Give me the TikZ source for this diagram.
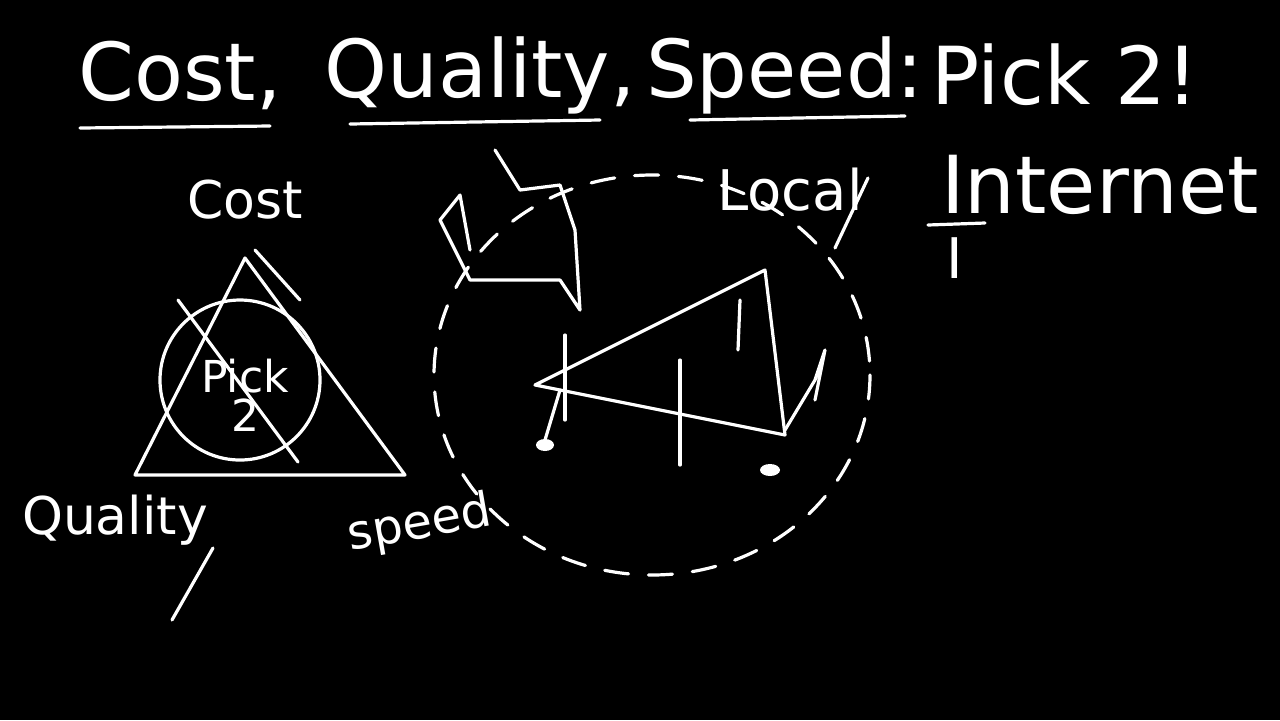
\documentclass[tikz,border=0pt]{standalone}
\usepackage{fontspec}
\setmainfont{DejaVu Sans}
\begin{document}
\begin{tikzpicture}[x=0.5pt,y=-0.5pt,every node/.style={text=white,inner sep=0pt},
 chalk/.style={draw=white,line width=1.6pt,line cap=round,line join=round},
 big/.style={font=\fontsize{40}{46}\selectfont},
 dashline/.style={chalk,dash pattern=on 12pt off 10pt}]
\fill[black] (0,0) rectangle (1280,720);
\useasboundingbox (0,0) rectangle (1280,720);
% title
\node[big] (t1) at (180,75) {Cost,};
\node[big] (t2) at (480,75) {Quality,};
\node[big] (t3) at (785,75) {Speed:};
\node[big] (t4) at (1065,75) {Pick 2!};
\draw[chalk] (80,128) -- (270,126);
\draw[chalk] (350,124) -- (600,120);
\draw[chalk] (690,120) -- (905,116);
% left triangle
\node (cost) at (245,200) {\fontsize{26}{30}\selectfont Cost};
\coordinate (ta) at (245,258);
\coordinate (tb) at (135,475);
\coordinate (tc) at (405,475);
\draw[chalk] (ta) -- (tb) -- (tc) -- cycle;
\draw[chalk] (240,380) circle[radius=80];
\draw[chalk] (255,250) -- (300,300);
\node (pick) at (245,395) {\fontsize{22}{26}\selectfont\shortstack{Pick\\2}};
\draw[chalk] (178,300) -- (298,462);
\node (quality) at (115,520) {\fontsize{26}{30}\selectfont Quality};
\draw[chalk] (213,548) -- (172,620);
\node[rotate=10] (speed) at (420,525) {\fontsize{24}{28}\selectfont speed};
% dashed circle
\draw[dashline] (652,375) ellipse[x radius=218,y radius=200];
\node (local) at (790,190) {\fontsize{28}{32}\selectfont Local};
\draw[chalk] (868,178) -- (835,248);
% hand
\draw[chalk] (495,150) -- (520,190) -- (560,185) -- (575,230) -- (580,310) -- (560,280) -- (470,280) -- (440,220) -- (460,195) -- (470,250);
% inner triangle
\coordinate (ia) at (535,385);
\coordinate (ib) at (765,270);
\coordinate (ic) at (785,435);
\draw[chalk] (ia) -- (ib) -- (ic) -- cycle;
\draw[chalk] (565,335) -- (565,420);
\draw[chalk] (680,360) -- (680,465);
\draw[chalk] (740,300) -- (738,350);
\draw[chalk] (785,430) -- (815,380) -- (825,350) -- (815,400);
\draw[chalk] (560,390) -- (545,440);
\fill[white] (545,445) ellipse[x radius=9,y radius=6];
\fill[white] (770,470) ellipse[x radius=10,y radius=6];
% right
\node (inet) at (1100,185) {\fontsize{40}{46}\selectfont Internet};
\draw[chalk] (928,225) -- (985,223);
\node (i2) at (955,258) {\fontsize{28}{32}\selectfont I};
\end{tikzpicture}
\end{document}
